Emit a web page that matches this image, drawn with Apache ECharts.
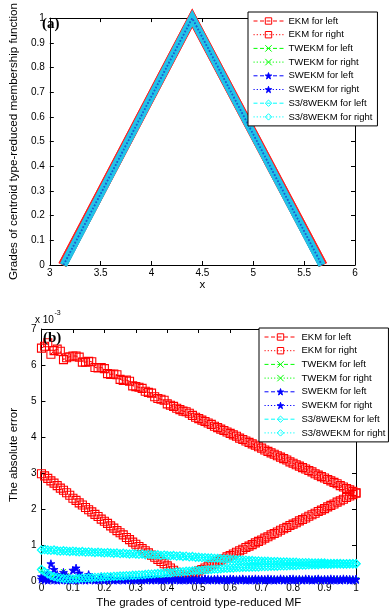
<!DOCTYPE html>
<html><head><meta charset="utf-8">
<script src="https://cdn.jsdelivr.net/npm/echarts@6/dist/echarts.min.js"></script>
<style>html,body{margin:0;padding:0;background:#fff}#c{width:390px;height:611px}</style>
</head><body><div id="c"></div>
<script>
const FONT = '"Liberation Sans", Arial, Helvetica, sans-serif';
const seriesNames = ['EKM for left','EKM for right','TWEKM for left','TWEKM for right','SWEKM for left','SWEKM for right','S3/8WEKM for left','S3/8WEKM for right'];

// (a) centroid type-reduced membership function (triangle vertices)
const membXEkm = [3.125, 4.40, 5.685];
const membXOther = [3.135, 4.40, 5.675];
const membY = [0, 1, 0];

// (b) grades of centroid type-reduced MF
const grades = [0,0.01,0.02,0.03,0.04,0.05,0.06,0.07,0.08,0.09,
0.10,0.11,0.12,0.13,0.14,0.15,0.16,0.17,0.18,0.19,
0.20,0.21,0.22,0.23,0.24,0.25,0.26,0.27,0.28,0.29,
0.30,0.31,0.32,0.33,0.34,0.35,0.36,0.37,0.38,0.39,
0.40,0.41,0.42,0.43,0.44,0.45,0.46,0.47,0.48,0.49,
0.50,0.51,0.52,0.53,0.54,0.55,0.56,0.57,0.58,0.59,
0.60,0.61,0.62,0.63,0.64,0.65,0.66,0.67,0.68,0.69,
0.70,0.71,0.72,0.73,0.74,0.75,0.76,0.77,0.78,0.79,
0.80,0.81,0.82,0.83,0.84,0.85,0.86,0.87,0.88,0.89,
0.90,0.91,0.92,0.93,0.94,0.95,0.96,0.97,0.98,0.99,1.00];

// absolute errors (x 10^-3)
const errEkmLeft = [6.47,6.52,6.62,6.30,6.40,6.44,6.38,6.15,6.20,6.23,
6.25,6.25,6.22,6.08,6.08,6.10,6.09,5.93,5.92,5.93,
5.90,5.76,5.74,5.75,5.73,5.60,5.57,5.58,5.55,5.42,
5.40,5.38,5.35,5.27,5.24,5.22,5.12,5.07,5.05,5.02,
4.92,4.88,4.85,4.80,4.76,4.72,4.70,4.66,4.60,4.55,
4.51,4.47,4.43,4.39,4.35,4.30,4.26,4.22,4.18,4.14,
4.10,4.06,4.02,3.97,3.93,3.89,3.85,3.81,3.77,3.73,
3.69,3.64,3.60,3.56,3.52,3.48,3.44,3.40,3.36,3.31,
3.27,3.23,3.19,3.15,3.11,3.07,3.03,2.98,2.94,2.90,
2.86,2.82,2.78,2.74,2.70,2.65,2.61,2.57,2.53,2.49,2.45];

const errEkmRight = [2.98,2.92,2.85,2.78,2.72,2.65,2.58,2.52,2.45,2.38,
2.30,2.24,2.17,2.11,2.04,1.98,1.92,1.85,1.79,1.72,
1.66,1.60,1.53,1.47,1.40,1.34,1.28,1.21,1.15,1.08,
1.02,0.96,0.90,0.84,0.78,0.72,0.66,0.60,0.54,0.48,
0.42,0.36,0.30,0.24,0.18,0.12,0.10,0.14,0.19,0.23,
0.28,0.32,0.36,0.41,0.45,0.49,0.54,0.58,0.62,0.67,
0.71,0.75,0.80,0.84,0.88,0.93,0.97,1.01,1.06,1.10,
1.14,1.19,1.23,1.28,1.32,1.36,1.41,1.45,1.49,1.54,
1.58,1.62,1.67,1.71,1.75,1.80,1.84,1.88,1.93,1.97,
2.01,2.06,2.10,2.14,2.19,2.23,2.27,2.32,2.36,2.40,2.44];

const errTwLeft = [0.30,0.18,0.10,0.08,0.12,0.08,0.15,0.26,0.15,0.06,
0.05,0.04,0.05,0.03,0.04,0.05,0.03,0.04,0.03,0.05,
0.04,0.03,0.04,0.05,0.03,0.04,0.03,0.04,0.05,0.03,
0.04,0.03,0.04,0.05,0.03,0.04,0.03,0.04,0.05,0.03,
0.04,0.03,0.04,0.05,0.03,0.04,0.03,0.04,0.05,0.03,
0.04,0.03,0.04,0.05,0.03,0.04,0.03,0.04,0.05,0.03,
0.04,0.03,0.04,0.05,0.03,0.04,0.03,0.04,0.05,0.03,
0.04,0.03,0.04,0.05,0.03,0.04,0.03,0.04,0.05,0.03,
0.04,0.03,0.04,0.05,0.03,0.04,0.03,0.04,0.05,0.03,
0.04,0.03,0.04,0.05,0.03,0.04,0.03,0.04,0.05,0.03,0.04];

const errTwRight = [0.04,0.03,0.02,0.03,0.04,0.02,0.03,0.02,0.04,0.03,
0.02,0.03,0.04,0.02,0.03,0.02,0.04,0.03,0.02,0.03,
0.04,0.02,0.03,0.02,0.04,0.03,0.02,0.03,0.04,0.02,
0.03,0.02,0.04,0.03,0.02,0.03,0.04,0.02,0.03,0.02,
0.04,0.03,0.02,0.03,0.04,0.02,0.03,0.02,0.04,0.03,
0.02,0.03,0.04,0.02,0.03,0.02,0.04,0.03,0.02,0.03,
0.04,0.02,0.03,0.02,0.04,0.03,0.02,0.03,0.04,0.02,
0.03,0.02,0.04,0.03,0.02,0.03,0.04,0.02,0.03,0.02,
0.04,0.03,0.02,0.03,0.04,0.02,0.03,0.02,0.04,0.03,
0.02,0.03,0.04,0.02,0.03,0.02,0.04,0.03,0.02,0.03,0.03];

const errSwLeft = [0.12,0.06,0.22,0.48,0.32,0.18,0.08,0.24,0.14,0.05,
0.30,0.36,0.22,0.10,0.06,0.18,0.10,0.05,0.04,0.12,
0.06,0.04,0.08,0.05,0.04,0.07,0.05,0.04,0.06,0.05,
0.04,0.05,0.06,0.04,0.05,0.04,0.06,0.05,0.04,0.05,
0.06,0.04,0.05,0.04,0.06,0.05,0.04,0.05,0.06,0.04,
0.05,0.04,0.06,0.05,0.04,0.05,0.06,0.04,0.05,0.04,
0.06,0.05,0.04,0.05,0.06,0.04,0.05,0.04,0.06,0.05,
0.04,0.05,0.06,0.04,0.05,0.04,0.06,0.05,0.04,0.05,
0.06,0.04,0.05,0.04,0.06,0.05,0.04,0.05,0.06,0.04,
0.05,0.04,0.06,0.05,0.04,0.05,0.06,0.04,0.05,0.04,0.05];

const errSwRight = [0.05,0.03,0.02,0.04,0.03,0.02,0.03,0.04,0.02,0.03,
0.04,0.02,0.03,0.04,0.02,0.03,0.05,0.02,0.03,0.04,
0.02,0.03,0.04,0.02,0.03,0.05,0.02,0.03,0.04,0.02,
0.03,0.04,0.02,0.03,0.05,0.02,0.03,0.04,0.02,0.03,
0.04,0.02,0.03,0.05,0.02,0.03,0.04,0.02,0.03,0.04,
0.02,0.03,0.05,0.02,0.03,0.04,0.02,0.03,0.04,0.02,
0.03,0.05,0.02,0.03,0.04,0.02,0.03,0.04,0.02,0.03,
0.05,0.02,0.03,0.04,0.02,0.03,0.04,0.02,0.03,0.05,
0.02,0.03,0.04,0.02,0.03,0.04,0.02,0.03,0.05,0.02,
0.03,0.04,0.02,0.03,0.04,0.02,0.03,0.05,0.02,0.03,0.04];

const errS38Left = [0.86,0.87,0.86,0.85,0.86,0.84,0.83,0.84,0.83,0.82,
0.83,0.82,0.81,0.82,0.80,0.81,0.80,0.79,0.80,0.79,
0.78,0.79,0.78,0.77,0.78,0.76,0.77,0.76,0.75,0.76,
0.75,0.74,0.75,0.73,0.74,0.73,0.72,0.73,0.71,0.72,
0.71,0.70,0.71,0.69,0.70,0.68,0.69,0.67,0.68,0.66,
0.66,0.65,0.65,0.64,0.64,0.63,0.63,0.62,0.61,0.61,
0.60,0.60,0.59,0.59,0.58,0.58,0.57,0.57,0.56,0.56,
0.55,0.55,0.55,0.54,0.54,0.54,0.53,0.53,0.53,0.52,
0.52,0.52,0.51,0.51,0.51,0.51,0.50,0.50,0.50,0.50,
0.50,0.49,0.49,0.49,0.49,0.49,0.48,0.48,0.48,0.48,0.48];

const errS38Right = [0.32,0.26,0.20,0.15,0.12,0.10,0.08,0.07,0.06,0.06,
0.06,0.07,0.07,0.08,0.08,0.09,0.09,0.10,0.10,0.11,
0.11,0.12,0.12,0.13,0.13,0.14,0.14,0.15,0.15,0.16,
0.16,0.17,0.17,0.18,0.19,0.19,0.20,0.21,0.21,0.22,
0.23,0.23,0.24,0.25,0.25,0.26,0.27,0.27,0.28,0.29,
0.29,0.30,0.31,0.31,0.32,0.33,0.33,0.34,0.35,0.35,
0.36,0.36,0.37,0.37,0.38,0.38,0.38,0.39,0.39,0.39,
0.40,0.40,0.40,0.41,0.41,0.41,0.42,0.42,0.42,0.43,
0.43,0.43,0.44,0.44,0.44,0.45,0.45,0.45,0.45,0.46,
0.46,0.46,0.46,0.47,0.47,0.47,0.47,0.47,0.48,0.48,0.48];

const SQ = 'path://M0,0L10,0L10,10L0,10Z';
const XM = 'path://M0,0L10,10M10,0L0,10';
const ST = 'path://M5,0L6.2,3.6L10,3.6L6.9,5.8L8.1,9.5L5,7.2L1.9,9.5L3.1,5.8L0,3.6L3.8,3.6Z';
const DM = 'path://M5,0L10,5L5,10L0,5Z';
const DASH = [4, 2.5];
const DOT = [1.2, 2];

const styles = [
  {c:'#ff0000', s:SQ, d:DASH, sz:8, f:'rgba(0,0,0,0)', bw:1.1},
  {c:'#ff0000', s:SQ, d:DOT, sz:8, f:'rgba(0,0,0,0)', bw:1.1},
  {c:'#00ff00', s:XM, d:DASH, sz:5, f:'rgba(0,0,0,0)', bw:1},
  {c:'#00ff00', s:XM, d:DOT, sz:5, f:'rgba(0,0,0,0)', bw:1},
  {c:'#0000ff', s:ST, d:DASH, sz:8, f:'#0000ff', bw:0.8},
  {c:'#0000ff', s:ST, d:DOT, sz:8, f:'#0000ff', bw:0.8},
  {c:'#00ffff', s:DM, d:DASH, sz:8, f:'rgba(0,0,0,0)', bw:1.3},
  {c:'#00ffff', s:DM, d:DOT, sz:8, f:'rgba(0,0,0,0)', bw:1.3}
];
const errData = [errEkmLeft, errEkmRight, errTwLeft, errTwRight, errSwLeft, errSwRight, errS38Left, errS38Right];

const seriesB = seriesNames.map((n, k) => ({
  name: n, type: 'line', xAxisIndex: 2, yAxisIndex: 2,
  data: grades.map((g, i) => [g, errData[k][i]]),
  symbol: styles[k].s, symbolSize: styles[k].sz, showAllSymbol: true,
  itemStyle: {color: styles[k].f, borderColor: styles[k].c, borderWidth: styles[k].bw},
  lineStyle: {color: styles[k].c, width: 1, type: styles[k].d},
  emphasis: {disabled: true}, clip: false, silent: true
}));

const aDefs = [
  {x: membXEkm, c:'#ff2020', w:9, d:'solid'},
  {x: membXEkm, c:'#ff2020', w:9, d:'solid'},
  {x: membXOther, c:'#00e000', w:5, d:'solid'},
  {x: membXOther, c:'#00e000', w:5, d:'solid'},
  {x: membXOther, c:'#1a5fd0', w:1.6, d:[1.5,2]},
  {x: membXOther, c:'#1a5fd0', w:1.6, d:[1.5,2]},
  {x: membXOther, c:'#22c2e8', w:7.5, d:'solid'},
  {x: membXOther, c:'#22c2e8', w:7.5, d:'solid'}
];
const zOrder = [1,1,2,2,4,4,3,3];
const seriesA = seriesNames.map((n, k) => ({
  name: n, type: 'line', xAxisIndex: 0, yAxisIndex: 0,
  data: aDefs[k].x.map((x, i) => [x, membY[i]]),
  symbol: 'none',
  lineStyle: {color: aDefs[k].c, width: aDefs[k].w, type: aDefs[k].d, join: 'miter', miterLimit: 20},
  emphasis: {disabled: true}, clip: false, silent: true, z: zOrder[k]
}));

const legendData = seriesNames.map((n, k) => ({
  name: n,
  itemStyle: {color: styles[k].f, borderColor: styles[k].c, borderWidth: 1},
  lineStyle: {color: styles[k].c, width: 1, type: styles[k].d}
}));

const axisLineS = {show: true, onZero: false, lineStyle: {color: '#000', width: 1}};
const tickS = {show: true, inside: true, length: 4, lineStyle: {color: '#000', width: 1}};
const lab = (m) => ({color: '#000', fontSize: 10, fontFamily: FONT, margin: m});
const nameS = {color: '#000', fontSize: 11.5, fontFamily: FONT};

const option = {
  animation: false,
  backgroundColor: '#fff',
  textStyle: {fontFamily: FONT},
  grid: [
    {left: 35, top: 12, width: 320, height: 253},
    {left: 35, top: 329, width: 321, height: 252}
  ],
  xAxis: [
    {gridIndex: 0, type: 'value', min: 3, max: 6, interval: 0.5, position: 'bottom',
     axisLine: axisLineS, axisTick: tickS, splitLine: {show: false}, axisLabel: lab(3),
     name: 'x', nameLocation: 'middle', nameGap: 13, nameTextStyle: nameS},
    {gridIndex: 0, type: 'value', min: 3, max: 6, interval: 0.5, position: 'top',
     axisLine: axisLineS, axisTick: tickS, splitLine: {show: false}, axisLabel: {show: false}},
    {gridIndex: 1, type: 'value', min: 0, max: 1, interval: 0.1, position: 'bottom',
     axisLine: axisLineS, axisTick: tickS, splitLine: {show: false}, axisLabel: lab(2),
     name: 'The grades of centroid type-reduced MF', nameLocation: 'middle', nameGap: 16, nameTextStyle: nameS},
    {gridIndex: 1, type: 'value', min: 0, max: 1, interval: 0.1, position: 'top',
     axisLine: axisLineS, axisTick: tickS, splitLine: {show: false}, axisLabel: {show: false}}
  ],
  yAxis: [
    {gridIndex: 0, type: 'value', min: 0, max: 1, interval: 0.1, position: 'left',
     axisLine: axisLineS, axisTick: tickS, splitLine: {show: false}, axisLabel: lab(5),
     name: 'Grades of centroid type-reduced membership function', nameLocation: 'middle', nameGap: 21,
     nameTextStyle: Object.assign({}, nameS, {fontSize: 11.6})},
    {gridIndex: 0, type: 'value', min: 0, max: 1, interval: 0.1, position: 'right',
     axisLine: axisLineS, axisTick: tickS, splitLine: {show: false}, axisLabel: {show: false}},
    {gridIndex: 1, type: 'value', min: 0, max: 7, interval: 1, position: 'left',
     axisLine: axisLineS, axisTick: tickS, splitLine: {show: false}, axisLabel: lab(5),
     name: 'The absolute error', nameLocation: 'middle', nameGap: 15, nameTextStyle: nameS},
    {gridIndex: 1, type: 'value', min: 0, max: 7, interval: 1, position: 'right',
     axisLine: axisLineS, axisTick: tickS, splitLine: {show: false}, axisLabel: {show: false}}
  ],
  legend: [
    {orient: 'vertical', left: 248, top: 12, itemWidth: 30, itemHeight: 8, itemGap: 3.7,
     padding: [4, 5, 4, 5], backgroundColor: '#fff', borderColor: '#000', borderWidth: 1,
     textStyle: {fontSize: 9.5, color: '#000', fontFamily: FONT}, selectedMode: false, z: 20,
     data: legendData},
    {orient: 'vertical', left: 259, top: 328, itemWidth: 32, itemHeight: 8, itemGap: 3.7,
     padding: [4, 3, 4, 5], backgroundColor: '#fff', borderColor: '#000', borderWidth: 1,
     textStyle: {fontSize: 9.5, color: '#000', fontFamily: FONT}, selectedMode: false, z: 20,
     data: legendData}
  ],
  graphic: [
    {type: 'text', left: 42, top: 17, z: 30, style: {text: '(a)', font: 'bold 15px "Liberation Serif", "Times New Roman", serif', fill: '#000'}},
    {type: 'text', left: 43, top: 331, z: 30, style: {text: '(b)', font: 'bold 15px "Liberation Serif", "Times New Roman", serif', fill: '#000'}},
    {type: 'text', left: 35, top: 315, z: 30, style: {text: 'x 10', font: '10px ' + FONT, fill: '#000'}},
    {type: 'text', left: 54.5, top: 310, z: 30, style: {text: '-3', font: '7px ' + FONT, fill: '#000'}}
  ],
  series: seriesB.concat(seriesA)
};

const chart = echarts.init(document.getElementById('c'), null, {renderer: 'canvas'});
chart.setOption(option);
</script>
</body></html>
